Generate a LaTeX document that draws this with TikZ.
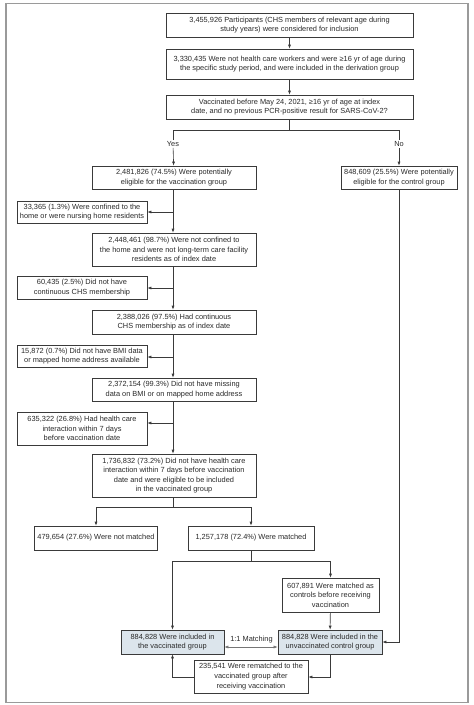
\documentclass[tikz,border=0pt]{standalone}
\usepackage{fontspec}
\setmainfont{Liberation Sans}
\usetikzlibrary{arrows.meta}
\definecolor{linec}{HTML}{3A3A3A}
\definecolor{textc}{HTML}{2A2A2A}
\definecolor{framec}{HTML}{9A9A9A}
\definecolor{shade}{HTML}{DCE5EC}
\newcommand{\fsz}{\fontsize{7.4pt}{9.6pt}\selectfont}
\tikzset{
  box/.style={draw=linec, line width=0.6pt, fill=white, text=textc, align=center, inner sep=0pt, font=\fsz},
  shadebox/.style={box, fill=shade},
  lbl/.style={text=textc, inner sep=1pt, font=\fsz},
  conn/.style={draw=linec, line width=0.6pt},
  arr/.style={conn, -{Latex[length=4pt,width=3pt]}},
  darr/.style={draw=linec!70, line width=0.5pt, {Latex[length=4pt,width=3pt]}-{Latex[length=4pt,width=3pt]}}
}
\begin{document}
\begin{tikzpicture}[x=1pt,y=-1pt]
\useasboundingbox (0,0) rectangle (474,705);
\fill[white] (0,0) rectangle (474,705);
\draw[framec, line width=1.5pt] (6,3.5) rectangle (468,702.5);

\node[box, minimum width=247, minimum height=24] (b1) at (289.5,25) {3,455,926 Participants (CHS members of relevant age during\\ study years) were considered for inclusion};
\node[box, minimum width=247, minimum height=30] (b2) at (289.5,64) {3,330,435 Were not health care workers and were ≥16 yr of age during\\ the specific study period, and were included in the derivation group};
\node[box, minimum width=247, minimum height=24] (b3) at (289.5,107) {Vaccinated before May 24, 2021, ≥16 yr of age at index\\ date, and no previous PCR-positive result for SARS-CoV-2?};
\node[lbl] (yes) at (173,144) {Yes};
\node[lbl] (no) at (399,144) {No};
\coordinate (fork) at (289.5,130);
\coordinate (forkL) at (173,130);
\coordinate (forkR) at (399,130);

\node[box, minimum width=164, minimum height=23] (b4) at (174,177.5) {2,481,826 (74.5\%) Were potentially\\ eligible for the vaccination group};
\node[box, minimum width=116, minimum height=23] (b5) at (399,177.5) {848,609 (25.5\%) Were potentially\\ eligible for the control group};
\node[box, minimum width=130, minimum height=22] (b6) at (82,212) {33,365 (1.3\%) Were confined to the\\ home or were nursing home residents};
\node[box, minimum width=164, minimum height=33] (b7) at (174,249.5) {2,448,461 (98.7\%) Were not confined to\\ the home and were not long-term care facility\\ residents as of index date};
\node[box, minimum width=130, minimum height=23] (b8) at (82,287.5) {60,435 (2.5\%) Did not have\\ continuous CHS membership};
\node[box, minimum width=164, minimum height=24] (b9) at (174,322) {2,388,026 (97.5\%) Had continuous\\ CHS membership as of index date};
\node[box, minimum width=130, minimum height=22] (b10) at (82,356) {15,872 (0.7\%) Did not have BMI data\\ or mapped home address available};
\node[box, minimum width=164, minimum height=23] (b11) at (174,389.5) {2,372,154 (99.3\%) Did not have missing\\ data on BMI or on mapped home address};
\node[box, minimum width=130, minimum height=33] (b12) at (82,428.5) {635,322 (26.8\%) Had health care\\ interaction within 7 days\\ before vaccination date};
\node[box, minimum width=164, minimum height=43] (b13) at (174,475.5) {1,736,832 (73.2\%) Did not have health care\\ interaction within 7 days before vaccination\\ date and were eligible to be included\\ in the vaccinated group};
\node[box, minimum width=123, minimum height=24] (b14) at (96,538) {479,654 (27.6\%) Were not matched};
\node[box, minimum width=126, minimum height=24] (b15) at (251,538) {1,257,178 (72.4\%) Were matched};
\node[box, minimum width=97, minimum height=34] (b16) at (330.5,595) {607,891 Were matched as\\ controls before receiving\\ vaccination};
\node[shadebox, minimum width=103, minimum height=24] (b17) at (172.5,642) {884,828 Were included in\\ the vaccinated group};
\node[shadebox, minimum width=104, minimum height=24] (b18) at (330,642) {884,828 Were included in the\\ unvaccinated control group};
\node[box, minimum width=114, minimum height=33] (b19) at (251,676.5) {235,541 Were rematched to the\\ vaccinated group after\\ receiving vaccination};
\node[lbl] (match) at (251.5,640) {1:1 Matching};

% top connectors
\draw[arr] (b1) -- (b2);
\draw[arr] (b2) -- (b3);
\draw[conn] (b3.south) -- (fork);
\draw[conn] (yes.north) |- (forkR) -- (no.north);
\draw[arr] (yes) -- (b4);
\draw[arr] (no) -- (b5);

% spine with exclusions
\coordinate (e1) at (173,212);
\coordinate (e2) at (173,288);
\coordinate (e3) at (173,357);
\coordinate (e4) at (173,423);
\draw[arr] (b4.south -| e1) -- (b7.north -| e1);
\draw[arr] (e1) -- (b6.east |- e1);
\draw[arr] (b7.south -| e2) -- (b9.north -| e2);
\draw[arr] (e2) -- (b8.east |- e2);
\draw[arr] (b9.south -| e3) -- (b11.north -| e3);
\draw[arr] (e3) -- (b10.east |- e3);
\draw[arr] (b11.south -| e4) -- (b13.north -| e4);
\draw[arr] (e4) -- (b12.east |- e4);

% matching split
\coordinate (s1) at (173,507);
\draw[conn] (b13.south -| s1) -- (s1);
\draw[arr] (s1) -| (b14.north);
\draw[arr] (s1) -| (b15.north);
\coordinate (s2) at (251,561);
\draw[conn] (b15.south) -- (s2);
\draw[arr] (s2) -| (b16.north);
\draw[arr] (s2) -| (b17.north);
\draw[arr] (b16) -- (b18);
\coordinate (c1) at (399,642);
\draw[arr] (b5.south) -- (c1) -- (b18.east);
\draw[darr] (b17.east |- 0,647) -- (b18.west |- 0,647);
\coordinate (r1) at (330,677);
\draw[arr] (b18.south) -- (r1) -- (b19.east |- r1);
\coordinate (r2) at (172.5,677);
\draw[arr] (b19.west |- r2) -- (r2) -- (b17.south);
\end{tikzpicture}
\end{document}
